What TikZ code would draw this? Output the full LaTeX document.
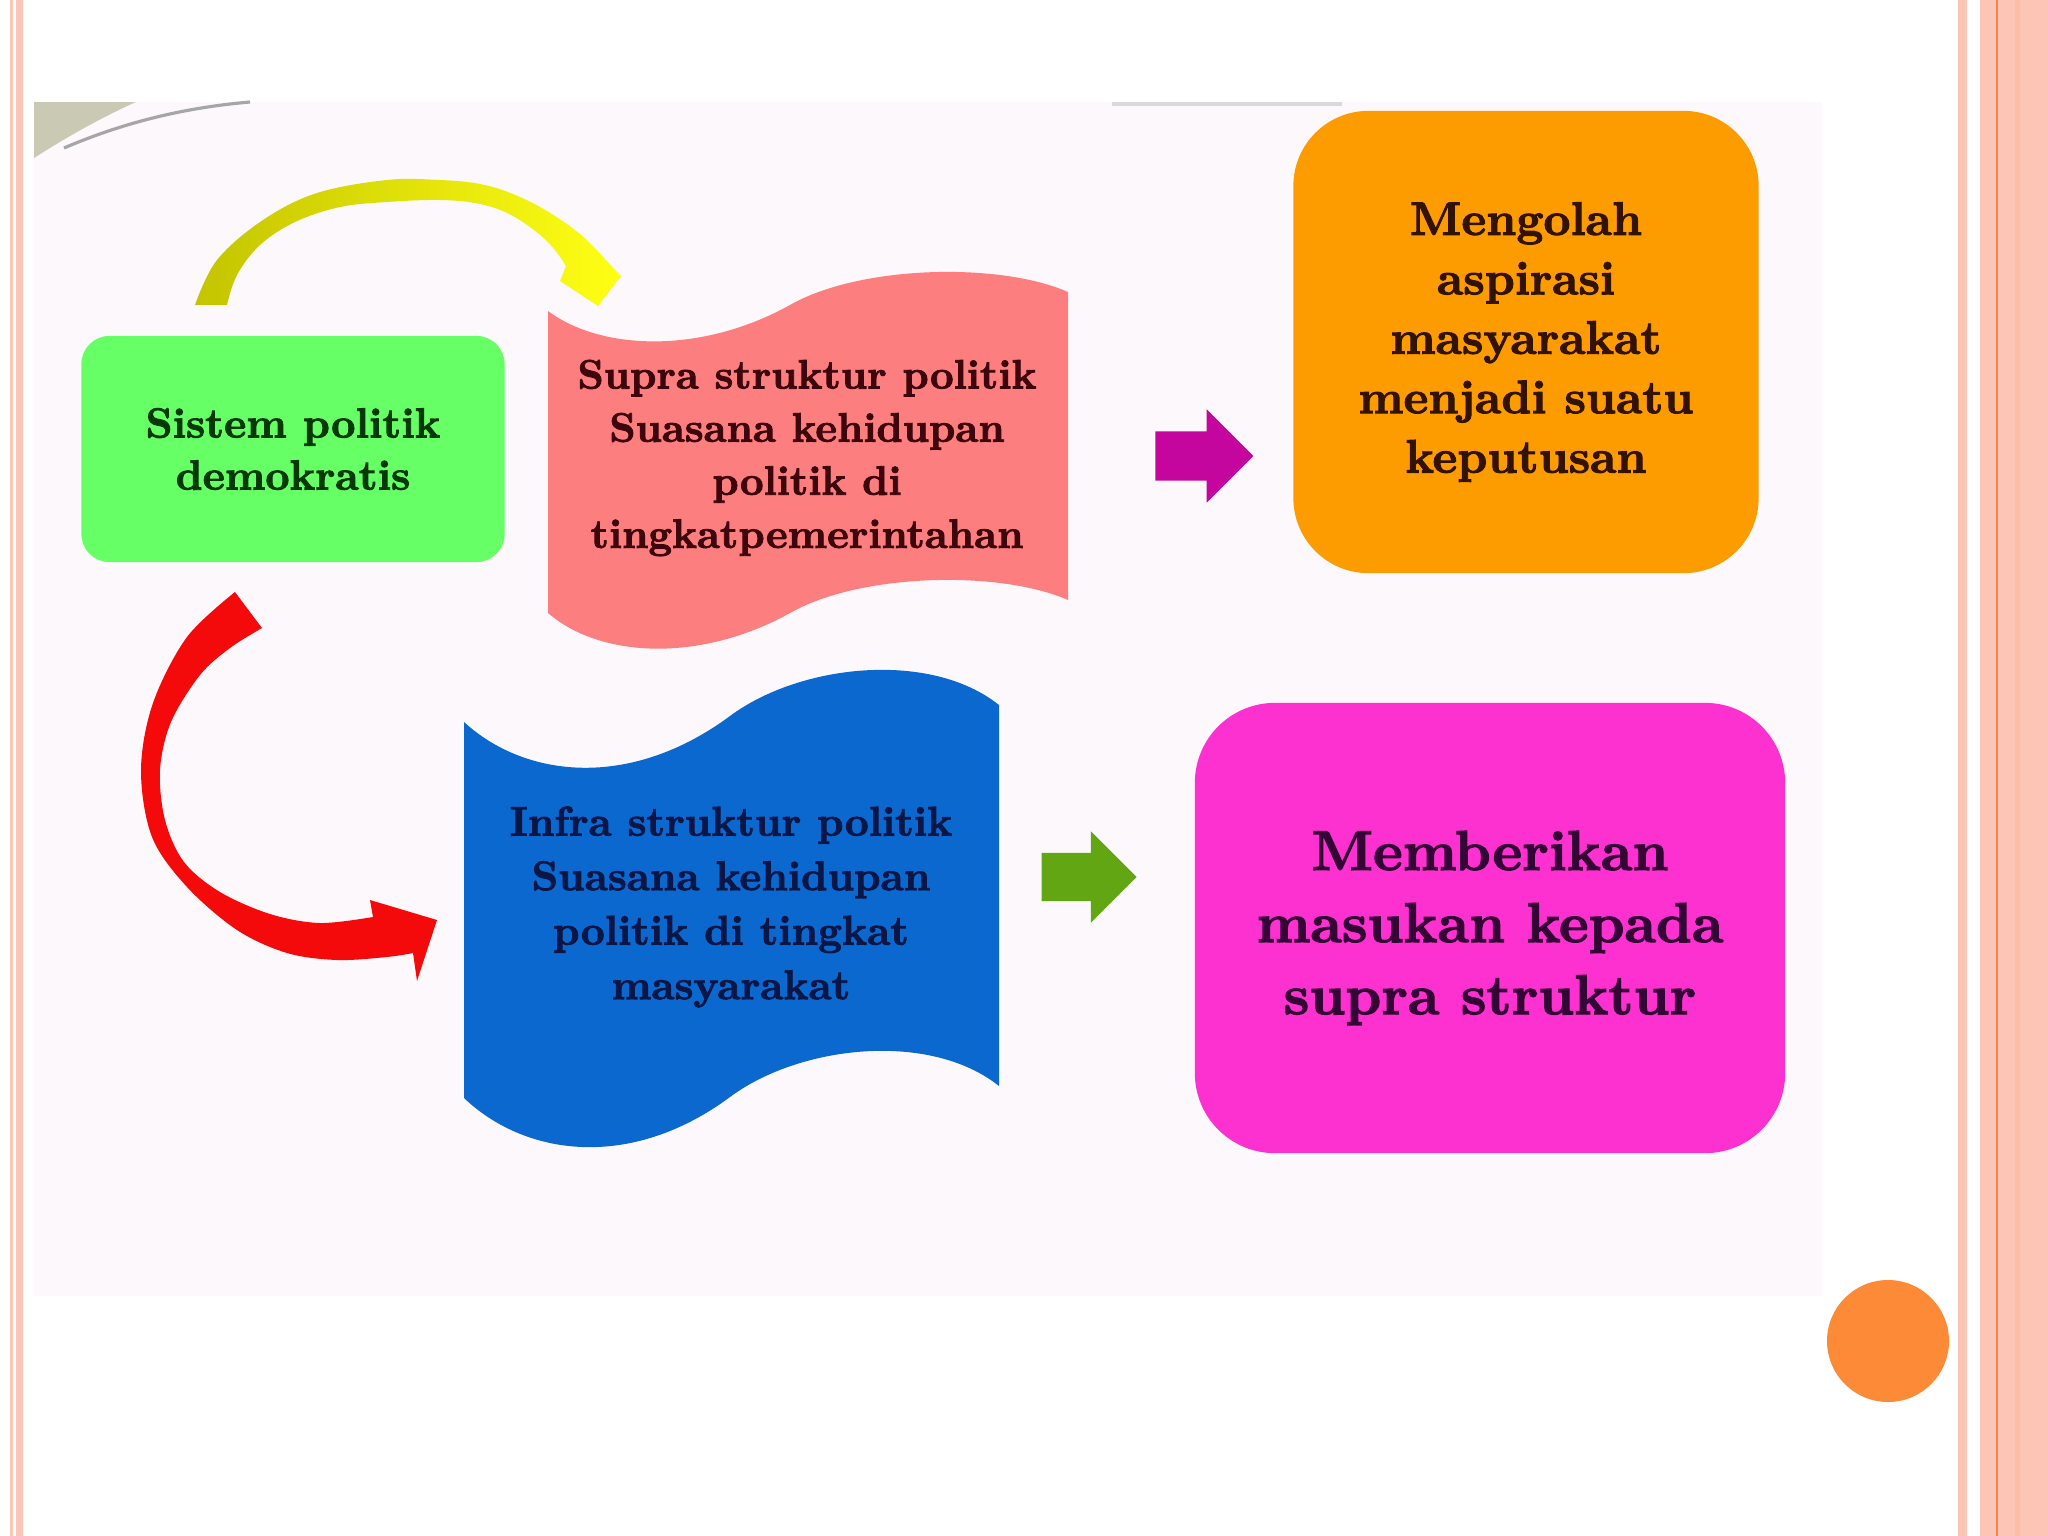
\documentclass[tikz,border=0pt]{standalone}
\usepackage{fontspec}
\usepackage{xcolor}
\usepackage{tikz}
\usetikzlibrary{arrows.meta, positioning, shapes.arrows, calc}
\newfontfamily\heavyfont{lmroman10-bold.otf}[FakeBold=2]
\definecolor{stripesalmon}{HTML}{FCC5B5}
\definecolor{stripeline}{HTML}{F2874A}
\definecolor{panelbg}{HTML}{FCF8FC}
\definecolor{cornergray}{HTML}{C9C9B4}
\definecolor{boxgreen}{HTML}{66FF66}
\definecolor{boxpink}{HTML}{FC7E7E}
\definecolor{boxblue}{HTML}{0A68CE}
\definecolor{boxorange}{HTML}{FD9C00}
\definecolor{boxmagenta}{HTML}{FD30D0}
\definecolor{arrowmag}{HTML}{C4069E}
\definecolor{arrowgreen}{HTML}{62A614}
\definecolor{arrowred}{HTML}{F40A0A}
\definecolor{yellowdark}{HTML}{C4C400}
\definecolor{yellowlight}{HTML}{FFFF14}
\definecolor{dotorange}{HTML}{FD8A36}
\definecolor{txtgreen}{HTML}{073807}
\definecolor{txtred}{HTML}{3C060C}
\definecolor{txtblue}{HTML}{0A1646}
\definecolor{txtbrown}{HTML}{321200}
\definecolor{txtpurple}{HTML}{340636}

\begin{document}
\begin{tikzpicture}[x=0.01cm, y=-0.01cm,
    roundbox/.style={align=center, inner sep=0pt},
    blockarrow/.style={single arrow, inner xsep=0pt, inner ysep=0.24cm,
        single arrow head extend=0.22cm, draw=none}]
    \useasboundingbox (0,0) rectangle (2048,1536);
    \fill[white] (0,0) rectangle (2048,1536);
    % Side stripes
    \fill[stripesalmon] (10,0) rectangle (13,1536);
    \fill[stripesalmon] (16,0) rectangle (23,1536);
    \fill[stripesalmon] (1958,0) rectangle (1967,1536);
    \fill[stripesalmon] (1980,0) rectangle (2048,1536);
    \draw[stripeline, line width=0.6pt] (1997,0) -- (1997,1536);
    \fill[stripesalmon!90!orange] (2015,0) rectangle (2020,1536);
    % Picture panel
    \fill[panelbg] (34,102) rectangle (1822,1296);
    \fill[cornergray] (34,102) -- (136,102) .. controls (100,118) and (62,140) .. (34,158) -- cycle;
    \draw[gray!70, line width=0.9pt] (64,148) .. controls (120,124) and (180,108) .. (250,102);
    \draw[gray!30, line width=0.9pt] (1112,104) -- (1342,104);
    % Left box
    \node[roundbox, fill=boxgreen, rounded corners=0.28cm, minimum width=4.23cm, minimum height=2.26cm,
        text=txtgreen, font=\fontsize{12}{14.8}\selectfont\heavyfont] (sistem) at (293,449)
        {Sistem politik\\demokratis};
    % Wave shapes
    \fill[boxpink] (548,311) .. controls (600,350) and (700,355) .. (790,305)
        .. controls (860,265) and (1000,262) .. (1068,292)
        -- (1068,600) .. controls (1000,570) and (860,573) .. (790,613)
        .. controls (700,663) and (600,658) .. (548,613) -- cycle;
    \node[align=center, text=txtred, font=\fontsize{11.7}{15.1}\selectfont\heavyfont] (supra) at (807,458)
        {Supra struktur politik\\Suasana kehidupan\\politik di\\tingkatpemerintahan};
    \fill[boxblue] (464,722) .. controls (525,778) and (630,790) .. (730,716)
        .. controls (800,664) and (930,650) .. (999,705)
        -- (999,1086) .. controls (930,1031) and (800,1045) .. (730,1097)
        .. controls (630,1171) and (525,1156) .. (464,1098) -- cycle;
    \node[align=center, text=txtblue, font=\fontsize{11.8}{15.5}\selectfont\heavyfont] (infra) at (731,907)
        {Infra struktur politik\\Suasana kehidupan\\politik di tingkat\\masyarakat};
    % Right boxes
    \node[roundbox, fill=boxorange, rounded corners=0.75cm, minimum width=4.65cm, minimum height=4.62cm,
        text=txtbrown, font=\fontsize{13.4}{16.9}\selectfont\heavyfont] (olah) at (1526,342)
        {Mengolah\\aspirasi\\masyarakat\\menjadi suatu\\keputusan};
    \node[roundbox, fill=boxmagenta, rounded corners=0.8cm, minimum width=5.9cm, minimum height=4.5cm,
        text=txtpurple, font=\fontsize{16}{20.5}\selectfont\heavyfont] (masukan) at (1490,928)
        {Memberikan\\masukan kepada\\supra struktur};
    % Block arrows
    \node[blockarrow, fill=arrowmag, minimum height=0.98cm] (arrsupra) at (1192,456) {};
    \node[blockarrow, fill=arrowgreen, minimum height=0.95cm, inner ysep=0.235cm,
        single arrow head extend=0.215cm] (arrinfra) at (1077,877) {};
    % Curved arrows
    \shade[left color=yellowdark, right color=yellowlight]
        plot[smooth, tension=0.6] coordinates {(195,305) (217,260) (263,220) (317,193) (387,180)
            (440,180) (480,184) (513,194) (547,211) (580,234) (604,258)}
        -- (621,276) -- (598,306) -- (560,281) -- (566,266)
        -- plot[smooth, tension=0.6] coordinates {(566,266) (547,241) (513,216) (480,204) (440,200)
            (387,202) (340,207) (295,222) (260,245) (237,275) (227,305)}
        -- cycle;
    \fill[arrowred]
        plot[smooth, tension=0.55] coordinates {(235,592) (187,637) (153,703) (141,770) (152,837)
            (187,887) (237,930) (287,953) (337,960) (387,957) (413,953)}
        -- (417,981) -- (437,920) -- (370,900) -- (373,917)
        -- plot[smooth, tension=0.55] coordinates {(373,917) (320,923) (270,914) (220,892) (184,862)
            (165,820) (160,770) (171,722) (200,675) (230,648) (262,628)}
        -- cycle;
    % Page dot
    \fill[dotorange] (1888,1341) circle (61);
\end{tikzpicture}
\end{document}
